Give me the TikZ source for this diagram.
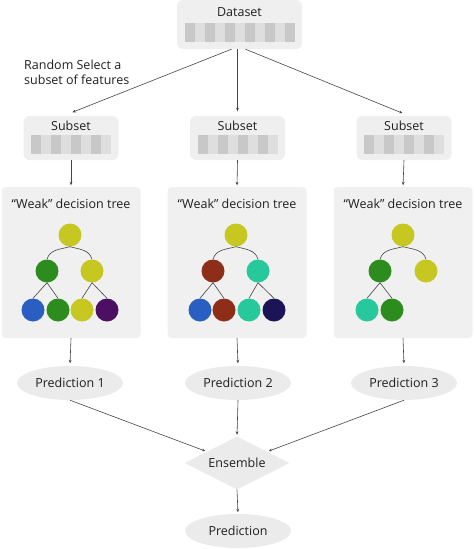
\documentclass[tikz,border=0pt]{standalone}
\usepackage{fontspec}
\setmainfont{Open Sans}
\usetikzlibrary{arrows.meta,shapes.geometric}
\definecolor{txt}{HTML}{1F1F1F}
\definecolor{boxfill}{HTML}{EFEFEF}
\definecolor{panelfill}{HTML}{F0F0F0}
\definecolor{ovalfill}{HTML}{EBEBEB}
\definecolor{stripdark}{HTML}{C8C8C8}
\definecolor{striplight}{HTML}{DEDEDE}
\definecolor{linec}{HTML}{444444}
\definecolor{yg}{HTML}{C6C720}
\definecolor{gr}{HTML}{2D8C1E}
\definecolor{bl}{HTML}{2A5EC0}
\definecolor{pu}{HTML}{4B1062}
\definecolor{br}{HTML}{8E2E18}
\definecolor{te}{HTML}{27C99C}
\definecolor{nv}{HTML}{1B1558}
\tikzset{
  panel/.style={fill=boxfill, draw=none, rounded corners=6pt, inner sep=0pt},
  treebox/.style={fill=panelfill, draw=none, rounded corners=4pt, inner sep=0pt, minimum width=139pt, minimum height=151pt},
  subbox/.style={panel, minimum width=95pt, minimum height=44pt},
  oval/.style={ellipse, fill=ovalfill, draw=none, inner sep=0pt, minimum width=106pt, minimum height=34pt},
  lbl/.style={inner sep=0pt, text=txt},
  leaf/.style={circle, draw=none, minimum size=23pt, inner sep=0pt},
  tedge/.style={draw=linec, line width=0.6pt},
  arr/.style={draw=linec, line width=0.6pt, -{Stealth[length=3.5pt,width=2.8pt]}, shorten >=1.5pt},
}
\begin{document}
\begin{tikzpicture}[x=1pt,y=-1pt, font=\fontsize{12.5}{15}\selectfont]
\useasboundingbox (0,0) rectangle (474,549);
% Dataset
\node[panel, minimum width=125pt, minimum height=49pt] (ds) at (239.5,24.5) {};
\node[lbl] (dsl) at (239.5,12) {Dataset};
\fill[striplight] (185,23) rectangle (295,42);
\foreach \i in {0,2,...,10} \fill[stripdark] (185+\i*10,23) rectangle ++(10,19);
% subset label
\node[lbl, align=left, anchor=west] (rs) at (24,72.5) {Random Select a\\subset of features};
% Subsets
\foreach \n/\cx in {1/71,2/237.5,3/404}{
  \node[subbox] (s\n) at (\cx,138) {};
  \node[lbl] (sl\n) at (\cx,126) {Subset};
  \fill[striplight] (\cx-40,135) rectangle (\cx+40,154);
  \foreach \i in {0,2,4,6} \fill[stripdark] (\cx-40+\i*10,135) rectangle ++(10,19);
}
% Tree boxes
\foreach \n/\cx in {1/71,2/237,3/403}{
  \node[treebox] (t\n) at (\cx,262.5) {};
  \node[lbl] (tl\n) at (\cx,204) {``Weak'' decision tree};
}
% Tree 1
\node[leaf, fill=yg] (a0) at (70,235) {};
\node[leaf, fill=gr] (a1) at (47,271) {};
\node[leaf, fill=yg] (a2) at (92,271) {};
\node[leaf, fill=bl] (a3) at (33,310) {};
\node[leaf, fill=gr] (a4) at (58,310) {};
\node[leaf, fill=yg] (a5) at (82,310) {};
\node[leaf, fill=pu] (a6) at (107,310) {};
\draw[tedge] (a0.south) to[out=195,in=75] (a1.north);
\draw[tedge] (a0.south) to[out=-15,in=105] (a2.north);
\draw[tedge] (a1.south) -- (a3.north);
\draw[tedge] (a1.south) -- (a4.north);
\draw[tedge] (a2.south) -- (a5.north);
\draw[tedge] (a2.south) -- (a6.north);
% Tree 2
\node[leaf, fill=yg] (b0) at (236,235) {};
\node[leaf, fill=br] (b1) at (213,271) {};
\node[leaf, fill=te] (b2) at (258,271) {};
\node[leaf, fill=bl] (b3) at (200,310) {};
\node[leaf, fill=br] (b4) at (224,310) {};
\node[leaf, fill=te] (b5) at (249,310) {};
\node[leaf, fill=nv] (b6) at (274,310) {};
\draw[tedge] (b0.south) to[out=195,in=75] (b1.north);
\draw[tedge] (b0.south) to[out=-15,in=105] (b2.north);
\draw[tedge] (b1.south) -- (b3.north);
\draw[tedge] (b1.south) -- (b4.north);
\draw[tedge] (b2.south) -- (b5.north);
\draw[tedge] (b2.south) -- (b6.north);
% Tree 3
\node[leaf, fill=yg] (c0) at (403,235) {};
\node[leaf, fill=gr] (c1) at (380,271) {};
\node[leaf, fill=yg] (c2) at (426,271) {};
\node[leaf, fill=te] (c3) at (367,310) {};
\node[leaf, fill=gr] (c4) at (392,310) {};
\draw[tedge] (c0.south) to[out=195,in=75] (c1.north);
\draw[tedge] (c0.south) to[out=-15,in=105] (c2.north);
\draw[tedge] (c1.south) -- (c3.north);
\draw[tedge] (c1.south) -- (c4.north);
% Predictions
\node[oval, text=txt] (p1) at (70,383) {Prediction 1};
\node[oval, text=txt] (p2) at (238,383) {Prediction 2};
\node[oval, text=txt] (p3) at (404,383) {Prediction 3};
\node[diamond, aspect=2, fill=ovalfill, draw=none, inner sep=0pt, minimum width=105pt, minimum height=53pt, text=txt] (ens) at (237,463) {Ensemble};
\node[oval, text=txt] (pf) at (238,531) {Prediction};
% arrows
\draw[arr] ([xshift=-8pt]ds.south) -- ([yshift=3pt]s1.north);
\draw[arr] (ds.south -| s2.north) -- ([yshift=3pt]s2.north);
\draw[arr] ([xshift=6pt]ds.south) -- ([yshift=2pt]s3.north);
\foreach \n in {1,2,3}{
  \draw[arr] (s\n.south) -- (t\n.north);
  \draw[arr] (t\n.south) -- ([yshift=1pt]p\n.north);
}
\draw[arr] (p1.south) -- (ens);
\draw[arr] (p2.south) -- (ens.north);
\draw[arr] (p3.south) -- (ens);
\draw[arr] (ens.south) -- (pf.north);
\end{tikzpicture}
\end{document}
